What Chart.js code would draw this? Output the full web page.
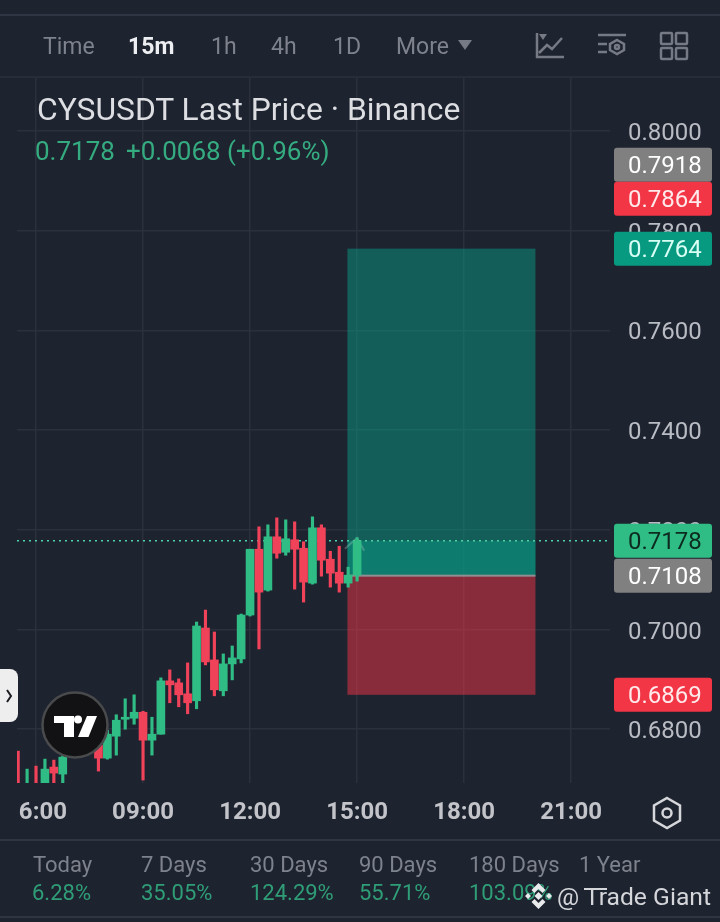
<!DOCTYPE html>
<html>
<head>
<meta charset="utf-8">
<script src="https://cdn.jsdelivr.net/npm/chart.js@4"></script>
<style>
  html, body { margin: 0; padding: 0; background: #1e2330; }
  body { position: relative; width: 720px; height: 922px; overflow: hidden; font-family: Roboto, sans-serif; }
  canvas { position: absolute; left: 0; top: 0; }
  .t { position: absolute; white-space: pre; line-height: 1; transform: translateY(-50%); }
  .tab { font-size: 23px; color: #7d828c; top: 46px; }
  .lbl { font-size: 22px; color: #7d828c; top: 865px; }
  .val { font-size: 22px; color: #2f9e77; top: 893px; }
  .rule { position: absolute; left: 0; width: 720px; height: 1.5px; background: #2f3542; }
  svg { position: absolute; overflow: visible; }
</style>
</head>
<body>
<canvas id="chart" width="720" height="922"></canvas>

<div class="rule" style="top:14px"></div>
<div class="rule" style="top:76px;height:2px;background:#272c38"></div>
<div class="rule" style="top:839px"></div>
<div class="rule" style="top:916px"></div>

<div class="t tab" style="left:43px">Time</div>
<div class="t tab" style="left:128px;color:#eceef1;font-weight:700">15m</div>
<div class="t tab" style="left:211px">1h</div>
<div class="t tab" style="left:271px">4h</div>
<div class="t tab" style="left:333px">1D</div>
<div class="t tab" style="left:396px">More</div>
<svg style="left:0;top:0" width="720" height="922" fill="none" stroke="#757a85" stroke-width="2.5">
  <path d="M458 40h14l-7 10z" fill="#757a85" stroke="none"/>
  <path d="M537 33v24h27M539 53l8-8 5 4 10-11"/>
  <path d="M539 34h8l-4 6z" fill="#757a85" stroke="none"/>
  <path d="M598 35h28M598 44h9M598 52h9"/>
  <path d="M617 40l7 4v6l-7 4-7-4v-6z"/><circle cx="617" cy="47" r="2"/>
  <rect x="661" y="33" width="11" height="11" rx="1"/><rect x="676" y="33" width="11" height="11" rx="1"/>
  <rect x="661" y="48" width="11" height="11" rx="1"/><rect x="676" y="48" width="11" height="11" rx="1"/>
</svg>

<div class="t" style="left:37px;top:110px;font-size:31.8px;color:#dcdee2">CYSUSDT Last Price · Binance</div>
<div class="t" style="left:35px;top:151px;font-size:26px;color:#35ac80">0.7178</div>
<div class="t" style="left:126px;top:151px;font-size:26px;color:#35ac80">+0.0068 (+0.96%)</div>

<div style="position:absolute;left:0;top:669px;width:18px;height:53px;background:#eeeeef;border-radius:0 8px 8px 0"></div>
<svg style="left:0;top:0" width="720" height="922" fill="none">
  <path d="M7 690l4 6-4 6" stroke="#1b1d22" stroke-width="2"/>
  <circle cx="75" cy="725" r="32.5" fill="#121214" stroke="#494a4c" stroke-width="2.5"/>
  <path d="M54 716h20v21H64V723H54z" fill="#fff"/>
  <circle cx="78" cy="719.5" r="4" fill="#fff"/>
  <path d="M87 716h10l-8.500 21H78z" fill="#fff"/>
  <path d="M667 799l13 7.500v15L667 829l-13-7.500v-15z" transform="translate(0,-1)" stroke="#d5d7db" stroke-width="2.500"/>
  <circle cx="667" cy="813" r="4.500" stroke="#d5d7db" stroke-width="2.500"/>
</svg>

<div class="t lbl" style="left:33px">Today</div>
<div class="t lbl" style="left:141px">7 Days</div>
<div class="t lbl" style="left:250px">30 Days</div>
<div class="t lbl" style="left:359px">90 Days</div>
<div class="t lbl" style="left:469px">180 Days</div>
<div class="t lbl" style="left:579px">1 Year</div>
<div class="t val" style="left:32px">6.28%</div>
<div class="t val" style="left:141px">35.05%</div>
<div class="t val" style="left:250px">124.29%</div>
<div class="t val" style="left:359px">55.71%</div>
<div class="t val" style="left:469px">103.09%</div>

<svg style="left:0;top:0" width="720" height="922" fill="#e9eaec">
  <path d="M538.500 883l7 7-3 3-4-4-4 4-3-3zM528 893l3 3-3 3-3-3zM549 893l3 3-3 3-3-3zM538.500 892l4 4-4 4-4-4zM542.500 899l3 3-7 7-7-7 3-3 4 4z"/>
</svg>
<div class="t" style="left:557px;top:897px;font-size:24.7px;color:#d4d6da">@ Trade Giant</div>
<div style="position:absolute;left:584px;top:888px;width:23px;height:1.5px;background:#d4d6da"></div>

<script>
  // 15 minute candles. The ones under the logo are guesses.
  const candleTimes = ["05:30","05:45","06:00","06:15","06:30","06:45","07:00","07:15","07:30","07:45",
    "08:00","08:15","08:30","08:45","09:00","09:15","09:30","09:45","10:00","10:15",
    "10:30","10:45","11:00","11:15","11:30","11:45","12:00","12:15","12:30","12:45",
    "13:00","13:15","13:30","13:45","14:00","14:15","14:30","14:45","15:00"];
  const opens  = [.6690,.6672,.6688,.6690,.6724,.6710,.6760,.6775,.6768,.6768,
    .6742,.6786,.6820,.6822,.6834,.6778,.6790,.6897,.6893,.6871,
    .6857,.7003,.6939,.6877,.6931,.6941,.7029,.7161,.7079,.7186,
    .7155,.7180,.7163,.7093,.7204,.7141,.7115,.7093,.7109];
  const highs  = [.6756,.6720,.6726,.6740,.6738,.6760,.6785,.6790,.6795,.6782,
    .6798,.6829,.6861,.6869,.6836,.6824,.6903,.6919,.6901,.6933,
    .7015,.7039,.6995,.6951,.6967,.7031,.7161,.7206,.7210,.7224,
    .7220,.7216,.7176,.7226,.7210,.7157,.7167,.7125,.7184];
  const lows   = [.6670,.6665,.6670,.6680,.6685,.6692,.6750,.6755,.6760,.6716,
    .6740,.6748,.6800,.6810,.6698,.6748,.6790,.6853,.6845,.6831,
    .6841,.6929,.6867,.6867,.6899,.6933,.7027,.6961,.7077,.7143,
    .7149,.7081,.7055,.7091,.7107,.7085,.7075,.7085,.7097];
  const closes = [.6680,.6685,.6678,.6720,.6712,.6744,.6775,.6770,.6785,.6742,
    .6790,.6818,.6824,.6834,.6778,.6790,.6897,.6889,.6869,.6853,
    .7007,.6935,.6879,.6931,.6943,.7029,.7161,.7075,.7186,.7153,
    .7182,.7161,.7095,.7204,.7139,.7113,.7093,.7109,.7178];

  const tagValues = [.7918,.7864,.7764,.7178,.7108,.6869];
  const tagKinds  = ["grey","red","teal","last","grey","red"];

  const boxHours = [14.73, 20];
  const boxTarget = .7764, boxEntry = .7108, boxStop = .6869;
  const lastPrice = .7178;

  const arrowHours  = [14.66, 15, 15.2];
  const arrowPrices = [.7162, .7184, .7158];

  const up = "#2fbd85", down = "#f0435a";
  const hourOf = (t) => +t.slice(0, 2) + +t.slice(3) / 60;
  const colours = closes.map((c, i) => (c >= opens[i] ? up : down));
  const xMin = 5.467, xMax = 22.09;

  const tagColours = {
    grey: ["#808080", "#ffffff"], red: ["#f23645", "#ffe9ea"],
    teal: ["#089981", "#d8fff4"], last: ["#2fbd85", "#0d2a20"],
  };

  // long position box sits under the candles, gridlines faintly show through
  const positionBox = {
    id: "positionBox",
    beforeDatasetsDraw(chart) {
      const { ctx, scales: { x, y } } = chart;
      const l = x.getPixelForValue(boxHours[0]), r = x.getPixelForValue(boxHours[1]);
      const yT = y.getPixelForValue(boxTarget), yE = y.getPixelForValue(boxEntry);
      const yS = y.getPixelForValue(boxStop), yL = y.getPixelForValue(lastPrice);
      ctx.save();
      ctx.fillStyle = "rgba(8,153,129,0.5)";
      ctx.fillRect(l, yT, r - l, yE - yT);
      ctx.fillRect(l, yL, r - l, yE - yL);
      ctx.fillStyle = "rgba(242,54,69,0.5)";
      ctx.fillRect(l, yE, r - l, yS - yE);
      ctx.fillStyle = "#8f8f93";
      ctx.fillRect(l, yE - 1, r - l, 2);
      ctx.restore();
    },
  };

  // price tags on the right axis, pushed up when they would overlap
  const priceTags = {
    id: "priceTags",
    afterDraw(chart) {
      const { ctx, scales: { y } } = chart;
      const h = 34;
      const centres = tagValues.map((v) => y.getPixelForValue(v));
      for (let i = centres.length - 2; i >= 0; i--) {
        if (centres[i + 1] - centres[i] < h) centres[i] = centres[i + 1] - h;
      }
      // the 06:00 label runs off the left edge of the time axis
      ctx.save();
      ctx.fillStyle = "#1e2330";
      ctx.fillRect(0, 790, 18, 42);
      ctx.font = "24px Roboto";
      ctx.textBaseline = "middle";
      tagValues.forEach((v, i) => {
        const [bg, fg] = tagColours[tagKinds[i]];
        ctx.fillStyle = bg;
        ctx.beginPath();
        ctx.roundRect(614, centres[i] - h / 2, 98, h, 3);
        ctx.fill();
        ctx.fillStyle = fg;
        ctx.fillText(v.toFixed(4), 628, centres[i] + 2);
      });
      ctx.restore();
    },
  };

  new Chart(document.getElementById("chart"), {
    type: "bar",
    plugins: [positionBox, priceTags],
    data: {
      datasets: [
        {
          label: "body",
          order: 1,
          grouped: false,
          barThickness: 8,
          backgroundColor: colours,
          data: candleTimes.map((t, i) => ({ x: hourOf(t), y: [opens[i], closes[i]] })),
        },
        {
          label: "wick",
          order: 2,
          grouped: false,
          barThickness: 2.5,
          backgroundColor: colours,
          data: candleTimes.map((t, i) => ({ x: hourOf(t), y: [lows[i], highs[i]] })),
        },
        {
          type: "line",
          label: "arrow",
          order: 3,
          borderColor: "rgba(190,215,205,0.3)",
          borderWidth: 2,
          pointRadius: 0,
          data: arrowHours.map((h, i) => ({ x: h, y: arrowPrices[i] })),
        },
        {
          type: "line",
          label: "last price",
          order: 4,
          borderColor: "#4fd1a6",
          borderWidth: 1.5,
          borderDash: [2, 4],
          pointRadius: 0,
          data: [{ x: xMin, y: lastPrice }, { x: 22.03, y: lastPrice }],
        },
      ],
    },
    options: {
      responsive: false,
      animation: false,
      layout: { padding: { left: 17, top: 78, right: 0, bottom: 0 } },
      plugins: { legend: { display: false }, tooltip: { enabled: false }, title: { display: false } },
      scales: {
        x: {
          type: "linear",
          min: xMin,
          max: xMax,
          offset: false,
          afterFit: (s) => { s.height = 139; s.paddingLeft = 0; s.paddingRight = 0; },
          border: { display: false },
          grid: { color: "#2b303c", lineWidth: 1.5, drawTicks: false, offset: false },
          ticks: {
            stepSize: 3,
            includeBounds: false,
            padding: 16,
            maxRotation: 0,
            color: "#c2c4c9",
            font: { family: "Roboto", size: 24, weight: "bold" },
            callback: (v) => String(v).padStart(2, "0") + ":00",
          },
        },
        y: {
          position: "right",
          min: .66921,
          max: .81063,
          afterFit: (s) => { s.width = 110; s.paddingTop = 0; s.paddingBottom = 0; },
          border: { display: false },
          grid: { color: "#2b303c", lineWidth: 1.5, drawTicks: false },
          ticks: {
            stepSize: .02,
            includeBounds: false,
            padding: 18,
            labelOffset: 3,
            color: "#b9bcc3",
            font: { family: "Roboto", size: 24 },
            callback: (v) => v.toFixed(4),
          },
        },
      },
    },
  });
</script>
</body>
</html>
